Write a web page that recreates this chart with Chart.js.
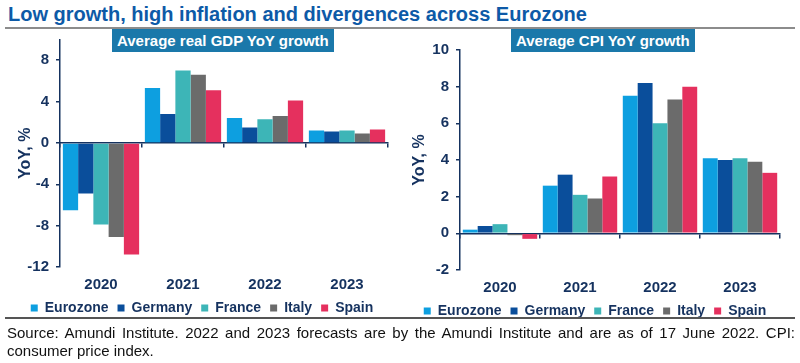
<!DOCTYPE html>
<html>
<head>
  <meta charset="UTF-8">
  <title>Low growth, high inflation and divergences across Eurozone</title>
  <script src="https://cdn.jsdelivr.net/npm/chart.js@4.4.0/dist/chart.umd.min.js"></script>
  <style>
    body {
      margin: 0;
      width: 800px;
      height: 363px;
      background: #fff;
      position: relative;
      overflow: hidden;
      font-family: "Liberation Sans", Arial, sans-serif;
    }
    #title {
      position: absolute;
      left: 8px;
      top: 3px;
      font-size: 20px;
      font-weight: bold;
      color: #0d5aa7;
      white-space: nowrap;
    }
    .rule {
      position: absolute;
      left: 5px;
      width: 790px;
    }
    .panel {
      position: absolute;
      top: 30px;
      width: 400px;
      height: 300px;
    }
    .tag {
      position: absolute;
      top: 29px;
      height: 23px;
      line-height: 23px;
      background: #1a78aa;
      color: #fff;
      font-weight: bold;
      font-size: 15px;
      padding: 0 5px;
      white-space: nowrap;
      z-index: 2;
    }
    #source {
      position: absolute;
      left: 7px;
      top: 324px;
      width: 788px;
      font-family: "Liberation Sans Narrow", "Liberation Sans", Arial, sans-serif;
      font-size: 15px;
      line-height: 18px;
      color: #111;
      text-align: justify;
    }
  </style>
</head>
<body>
  <div id="title">Low growth, high inflation and divergences across Eurozone</div>
  <div class="rule" style="top:27px; height:2px; background:#8c8c8c;"></div>

  <div class="tag" style="left:112px;">Average real GDP YoY growth</div>
  <div class="tag" style="left:511px;">Average CPI YoY growth</div>

  <div class="panel" style="left:0;"><canvas id="gdpChart"></canvas></div>
  <div class="panel" style="left:400px;"><canvas id="cpiChart"></canvas></div>

  <div class="rule" style="top:317px; height:1.5px; background:#555;"></div>
  <div id="source">Source: Amundi Institute. 2022 and 2023 forecasts are by the Amundi Institute and are as of 17 June 2022. CPI: consumer price index.</div>

  <script>
    const years = ['2020', '2021', '2022', '2023'];
    const countries = ['Eurozone', 'Germany', 'France', 'Italy', 'Spain'];
    const countryColors = ['#0d9fe0', '#0a4e9b', '#3db5b7', '#6b6b6b', '#e5305e'];

    // real GDP, YoY %
    const gdpEurozone = [-6.5, 5.3, 2.4, 1.2];
    const gdpGermany  = [-4.9, 2.8, 1.5, 1.1];
    const gdpFrance   = [-7.9, 7.0, 2.3, 1.2];
    const gdpItaly    = [-9.1, 6.6, 2.6, 0.9];
    const gdpSpain    = [-10.8, 5.1, 4.1, 1.3];

    // CPI, YoY %
    const cpiEurozone = [0.2, 2.6, 7.5, 4.1];
    const cpiGermany  = [0.4, 3.2, 8.2, 4.0];
    const cpiFrance   = [0.5, 2.1, 6.0, 4.1];
    const cpiItaly    = [-0.1, 1.9, 7.3, 3.9];
    const cpiSpain    = [-0.3, 3.1, 8.0, 3.3];

    const gdpTicks = [-12, -8, -4, 0, 4, 8];
    const cpiTicks = [-2, 0, 2, 4, 6, 8, 10];

    const navy = '#15325f';
    const fontFamily = '"Liberation Sans", Arial, sans-serif';

    function makeChart(canvasId, series, yMin, yMax, yTicks, yWidth, pad) {
      const datasets = series.map((values, i) => ({
        label: countries[i],
        data: values,
        xAxisID: 'x',
        backgroundColor: countryColors[i],
        borderWidth: 0,
        categoryPercentage: 0.93,
        barPercentage: 1.0
      }));

      return new Chart(document.getElementById(canvasId), {
        type: 'bar',
        data: { labels: years, datasets: datasets },
        options: {
          responsive: true,
          maintainAspectRatio: false,
          animation: false,
          layout: { padding: pad },
          plugins: {
            tooltip: { enabled: false },
            legend: {
              position: 'bottom',
              labels: {
                boxWidth: 7,
                boxHeight: 7,
                padding: 9,
                color: navy,
                font: { family: fontFamily, size: 14, weight: 'bold' }
              }
            }
          },
          scales: {
            x: {
              type: 'category',
              position: { y: 0 },
              offset: true,
              grid: {
                offset: true,
                drawOnChartArea: false,
                drawTicks: true,
                tickLength: 4,
                color: navy,
                lineWidth: 1.5
              },
              border: { color: navy, width: 1.5 },
              ticks: { display: false }
            },
            x2: {
              type: 'category',
              labels: years,
              position: 'bottom',
              offset: true,
              grid: { display: false, drawTicks: false },
              border: { display: false },
              ticks: {
                color: navy,
                padding: 9,
                font: { family: fontFamily, size: 15, weight: 'bold' }
              },
              afterFit: s => { s.height = 25; }
            },
            y: {
              min: yMin,
              max: yMax,
              afterBuildTicks: s => { s.ticks = yTicks.map(v => ({ value: v })); },
              afterFit: s => {
                s.width = yWidth;
                s.paddingTop = 0;
                s.paddingBottom = 0;
              },
              border: { color: navy, width: 1.5 },
              grid: {
                drawOnChartArea: false,
                drawTicks: true,
                tickLength: 4,
                color: navy,
                lineWidth: 1.5
              },
              ticks: {
                color: navy,
                padding: 7,
                font: { family: fontFamily, size: 15, weight: 'bold' }
              },
              title: {
                display: true,
                text: 'YoY, %',
                color: navy,
                padding: { top: 0, bottom: 0 },
                font: { family: fontFamily, size: 16, weight: 'bold' }
              }
            }
          }
        }
      });
    }

    makeChart('gdpChart',
      [gdpEurozone, gdpGermany, gdpFrance, gdpItaly, gdpSpain],
      -12, 10, gdpTicks, 44,
      { left: 16, right: 12, top: 9.5, bottom: 5 });

    makeChart('cpiChart',
      [cpiEurozone, cpiGermany, cpiFrance, cpiItaly, cpiSpain],
      -2, 10, cpiTicks, 50,
      { left: 10, right: 20, top: 20, bottom: 2 });
  </script>
</body>
</html>
